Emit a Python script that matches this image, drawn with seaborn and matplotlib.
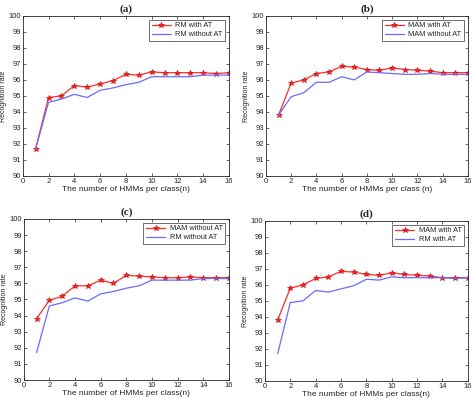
import numpy as np
import pandas as pd
import matplotlib
matplotlib.use("Agg")
import matplotlib.pyplot as plt
import seaborn as sns

# number of HMMs per class
n_hmm = list(range(1, 17))

rm_with_at = [91.7, 94.9, 95.0, 95.65, 95.55, 95.75, 95.95, 96.35,
              96.3, 96.5, 96.45, 96.45, 96.45, 96.45, 96.4, 96.45]
rm_without_at = [91.7, 94.6, 94.8, 95.1, 94.9, 95.35, 95.5, 95.7,
                 95.85, 96.2, 96.2, 96.2, 96.2, 96.3, 96.3, 96.3]
mam_with_at = [93.8, 95.8, 96.0, 96.4, 96.5, 96.85, 96.8, 96.65,
               96.6, 96.75, 96.65, 96.6, 96.55, 96.45, 96.45, 96.45]
mam_without_at = [93.8, 94.95, 95.2, 95.85, 95.85, 96.2, 96.0, 96.5,
                  96.45, 96.4, 96.35, 96.35, 96.4, 96.35, 96.35, 96.35]

panels = [
    ("(a)", "RM with AT", rm_with_at, "RM without AT", rm_without_at,
     "The number of HMMs per class(n)"),
    ("(b)", "MAM with AT", mam_with_at, "MAM without AT", mam_without_at,
     "The number of HMMs per class (n)"),
    ("(c)", "MAM without AT", mam_without_at, "RM without AT", rm_without_at,
     "The number of HMMs per class(n)"),
    ("(d)", "MAM with AT", mam_with_at, "RM with AT", rm_with_at,
     "The number of HMMs per class(n)"),
]

sns.set_style("ticks")
plt.rcParams["font.family"] = ["Liberation Sans", "DejaVu Sans"]

fig = plt.figure(figsize=(4.74, 3.98), dpi=100)
rects = [
    [0.048, 0.558, 0.435, 0.402],
    [0.561, 0.558, 0.426, 0.402],
    [0.050, 0.045, 0.433, 0.405],
    [0.559, 0.043, 0.428, 0.402],
]

for rect, (title, lab1, y1, lab2, y2, xlab) in zip(rects, panels):
    ax = fig.add_axes(rect)
    sns.lineplot(x=n_hmm, y=y1, color="#ff2a2a", marker="*",
                 markersize=3.8, markeredgewidth=0.5,
                 markeredgecolor="#cc1111", linewidth=0.9,
                 label=lab1, ax=ax)
    sns.lineplot(x=n_hmm, y=y2, color="#6a6aff", linewidth=0.9,
                 label=lab2, ax=ax)
    ax.set_xlim(0, 16)
    ax.set_ylim(90, 100)
    ax.set_xticks(range(0, 17, 2))
    ax.set_yticks(range(90, 101))
    ax.tick_params(direction="in", labelsize=5.5, length=2, width=0.5,
                   pad=1.2, top=True, right=True)
    for s in ax.spines.values():
        s.set_linewidth(0.6)
    ax.set_xlabel(xlab, fontsize=6, labelpad=1)
    ax.set_ylabel("Recognition rate", fontsize=5, labelpad=1)
    ax.set_title(title, fontsize=8, fontweight="bold",
                 family=["Liberation Serif", "DejaVu Serif"], pad=3)
    leg = ax.legend(loc="upper right", fontsize=5.3, frameon=True,
                    fancybox=False, edgecolor="black", handlelength=2.6,
                    borderpad=0.35, labelspacing=0.25, handletextpad=0.6,
                    borderaxespad=0.5)
    leg.get_frame().set_linewidth(0.5)

fig.savefig("out.png", dpi=100)
